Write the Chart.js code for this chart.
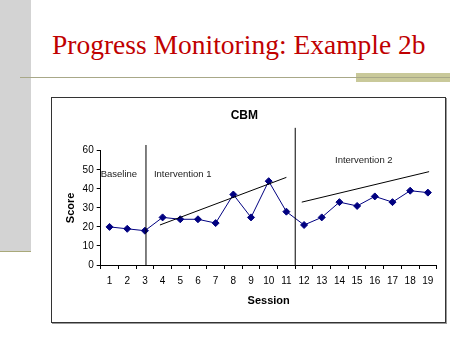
<!DOCTYPE html>
<html>
<head>
<meta charset="utf-8">
<script src="https://cdn.jsdelivr.net/npm/chart.js@4.4.1/dist/chart.umd.min.js"></script>
<style>
  html, body { margin: 0; padding: 0; background: #ffffff; width: 474px; height: 355px; overflow: hidden; }
  #strip { position: absolute; left: 0; top: 0; width: 31px; height: 251px; background: #d3d3d3; border-bottom: 1px solid #a9a97a; }
  #rule { position: absolute; left: 20px; top: 77px; width: 430px; height: 1px; background: #a8a888; }
  #bar { position: absolute; left: 356px; top: 73px; width: 94px; height: 9px; background: #c9c99a; }
  #title { position: absolute; left: 52px; top: 30.5px; font-family: 'Liberation Serif', 'Times New Roman', serif; font-size: 27.5px; line-height: 28px; color: #c00000; white-space: nowrap; }
  #box { position: absolute; left: 51px; top: 97px; width: 393px; height: 224px; border: 1px solid #333; box-shadow: 1px 1px 0 #999; }
  canvas { display: block; }
</style>
</head>
<body>
<div id="strip"></div>
<div id="bar"></div>
<div id="rule"></div>
<div id="title">Progress Monitoring: Example 2b</div>
<div id="box"><canvas id="c" width="393" height="224"></canvas></div>
<script>
const sessions = ['1','2','3','4','5','6','7','8','9','10','11','12','13','14','15','16','17','18','19'];
const scores = [20, 19, 18, 25, 24, 24, 22, 37, 25, 44, 28, 21, 25, 33, 31, 36, 33, 39, 38];
const trend1 = [{x: 3.85, y: 21}, {x: 11.0, y: 46}];
const trend2 = [{x: 11.87, y: 33}, {x: 19.07, y: 49}];
const phase1 = [{x: 3.06, y: 0}, {x: 3.06, y: 63}];
const phase2 = [{x: 11.5, y: 0}, {x: 11.5, y: 72}];
const phaseLabels = [
  {text: 'Baseline', x: 0.5, y: 47.8},
  {text: 'Intervention 1', x: 3.51, y: 47.8},
  {text: 'Intervention 2', x: 13.75, y: 55.1}
];
const yTicks = [0, 10, 20, 30, 40, 50, 60];

Chart.defaults.font.family = "'Liberation Sans', Arial, sans-serif";
Chart.defaults.color = '#000';

const phaseText = {
  id: 'phaseText',
  afterDatasetsDraw(chart) {
    const ctx = chart.ctx;
    const xs = chart.scales.x2, ys = chart.scales.y;
    ctx.save();
    ctx.font = "9.5px 'Liberation Sans', Arial, sans-serif";
    ctx.fillStyle = '#222';
    ctx.textAlign = 'left';
    ctx.textBaseline = 'middle';
    phaseLabels.forEach(l => ctx.fillText(l.text, xs.getPixelForValue(l.x), ys.getPixelForValue(l.y)));
    ctx.restore();
  }
};

const lineStyle = {borderColor: '#000', borderWidth: 1, pointRadius: 0, fill: false, xAxisID: 'x2', clip: false, tension: 0};

new Chart(document.getElementById('c'), {
  type: 'line',
  data: {
    labels: sessions,
    datasets: [
      Object.assign({data: phase1}, lineStyle),
      Object.assign({data: phase2}, lineStyle),
      Object.assign({data: trend1}, lineStyle),
      Object.assign({data: trend2}, lineStyle),
      {
        data: scores, xAxisID: 'x',
        borderColor: '#000080', backgroundColor: '#000080', borderWidth: 1,
        pointStyle: 'rectRot', pointRadius: 3.5, pointHoverRadius: 3.5,
        tension: 0, fill: false
      }
    ]
  },
  options: {
    responsive: false,
    animation: false,
    events: [],
    layout: {padding: {left: 0, right: 8.3, top: 0, bottom: 0}},
    plugins: {
      legend: {display: false},
      tooltip: {enabled: false},
      title: {
        display: true, text: 'CBM', color: '#000',
        font: {size: 12, weight: 'bold'},
        padding: {top: 10, bottom: 28.3}
      }
    },
    scales: {
      x: {
        type: 'category', offset: true,
        grid: {offset: true, drawOnChartArea: false, drawTicks: true, tickLength: 4, color: '#000'},
        border: {color: '#000', width: 1},
        ticks: {font: {size: 10}, color: '#000', padding: 6, maxRotation: 0, autoSkip: false},
        title: {display: true, text: 'Session', font: {size: 11, weight: 'bold'}, color: '#000', padding: {top: 4, bottom: 14.4}},
        afterFit(s) { s.height = 57; }
      },
      x2: {type: 'linear', min: 0.5, max: 19.5, display: false},
      y: {
        min: 0, max: 60,
        afterBuildTicks(s) { s.ticks = yTicks.map(v => ({value: v})); },
        grid: {drawOnChartArea: false, drawTicks: true, tickLength: 4, color: '#000'},
        border: {color: '#000', width: 1},
        ticks: {font: {size: 10}, color: '#000', padding: 3},
        title: {display: true, text: 'Score', font: {size: 11, weight: 'bold'}, color: '#000', padding: {top: 12.4, bottom: 4}},
        afterFit(s) { s.width = 48.7; }
      }
    }
  },
  plugins: [phaseText]
});
</script>
</body>
</html>
